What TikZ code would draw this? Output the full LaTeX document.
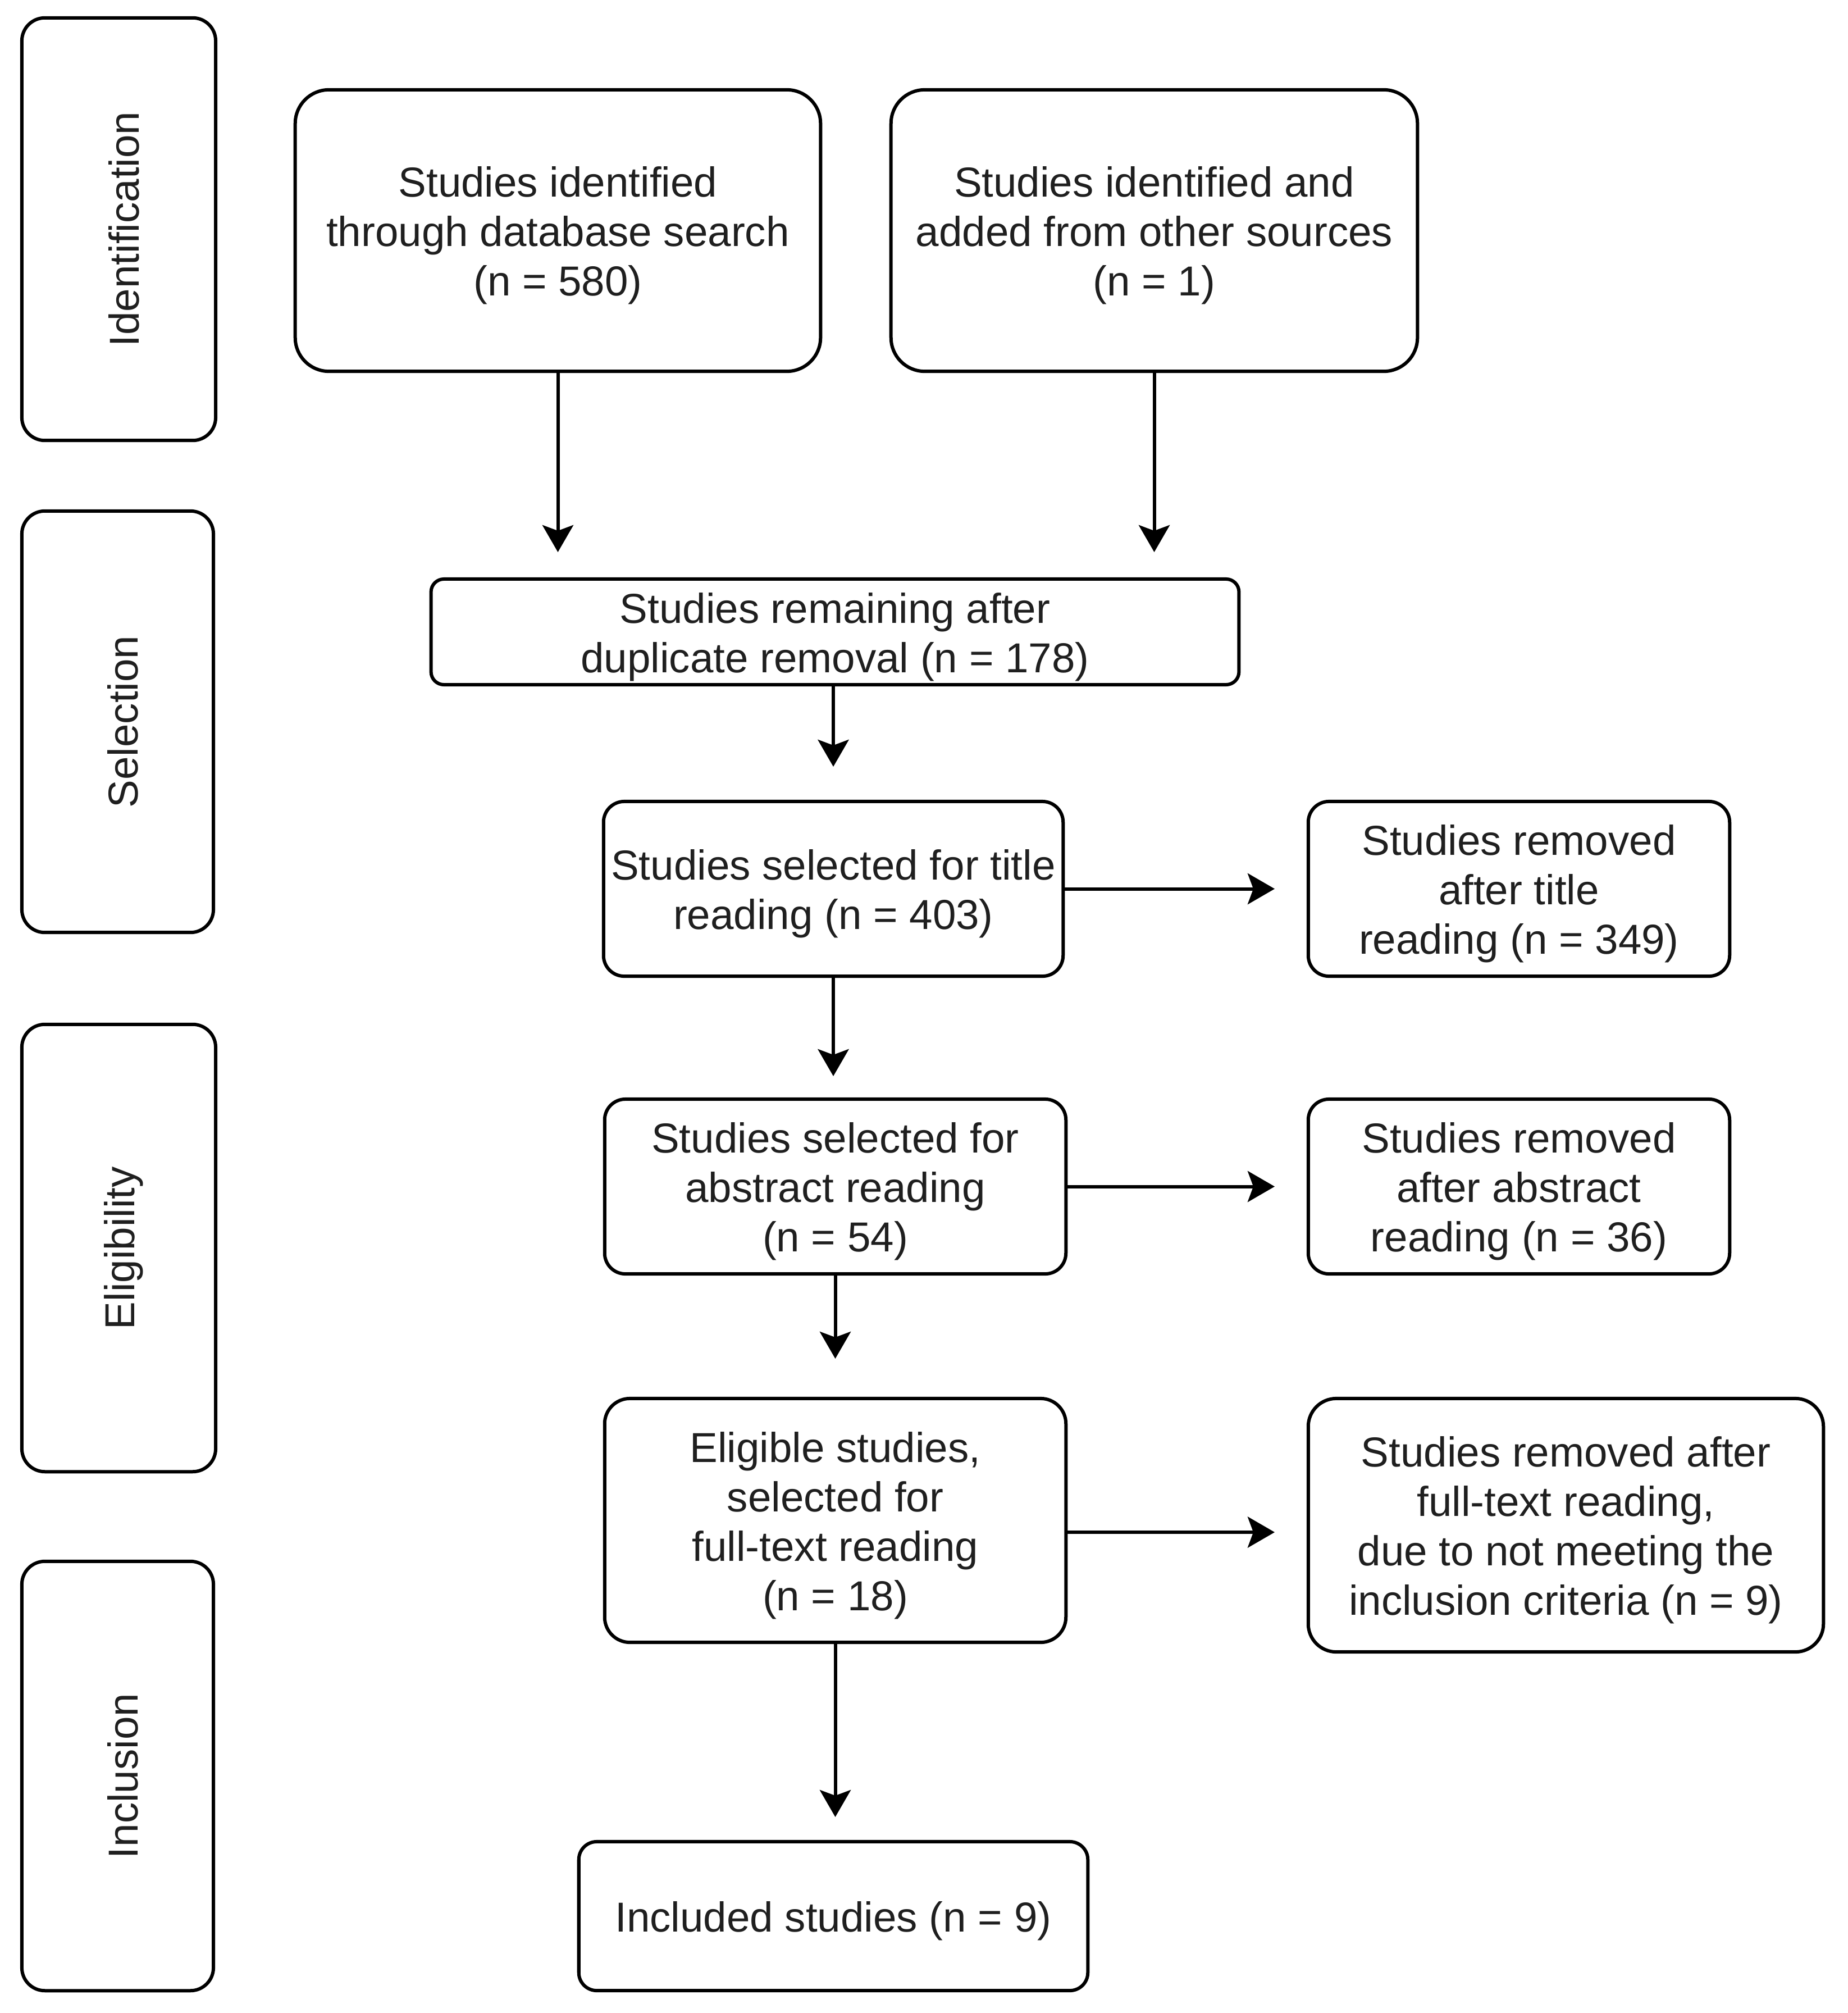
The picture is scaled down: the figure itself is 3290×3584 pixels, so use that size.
\documentclass[tikz,border=0pt]{standalone}
\usepackage{fontspec}
\setmainfont{Liberation Sans}
\usetikzlibrary{arrows.meta}
\newcommand\dn[1]{\smash{\raisebox{-0.09cm}{#1}}\vphantom{#1}}
\begin{document}
\begin{tikzpicture}[x=0.01cm,y=-0.01cm,
  box/.style={draw=black, line width=0.06cm, align=center, inner sep=0pt,
    font=\fontsize{21.2}{25}\selectfont, text=black!88},
  arr/.style={-{Stealth[length=0.48cm,width=0.55cm,inset=0.1cm]}, line width=0.06cm}]
\fill[white] (0,0) rectangle (3290,3584);
\useasboundingbox (0,0) rectangle (3290,3584);

% phase boxes
\node[box, rotate=90, minimum width=7.52cm, minimum height=3.45cm, rounded corners=0.41cm] (id) at (211.5,408) {\dn{Identification}};
\node[box, rotate=90, minimum width=7.50cm, minimum height=3.41cm, rounded corners=0.41cm] (sel) at (209.5,1285) {\dn{Selection}};
\node[box, rotate=90, minimum width=7.96cm, minimum height=3.45cm, rounded corners=0.41cm] (elig) at (211.5,2222) {\dn{Eligibility}};
\node[box, rotate=90, minimum width=7.64cm, minimum height=3.41cm, rounded corners=0.41cm] (incl) at (209.5,3162) {\dn{Inclusion}};

% flow boxes
\node[box, minimum width=9.35cm, minimum height=5.01cm, rounded corners=0.6cm] (A) at (993.5,410.5)
  {\dn{Studies identified}\\\dn{through database search}\\\dn{(n = 580)}};
\node[box, minimum width=9.37cm, minimum height=5.01cm, rounded corners=0.6cm] (B) at (2055.5,410.5)
  {\dn{Studies identified and}\\\dn{added from other sources}\\\dn{(n = 1)}};
\node[box, minimum width=14.38cm, minimum height=1.88cm, rounded corners=0.23cm] (C) at (1487,1125)
  {\dn{Studies remaining after}\\\dn{duplicate removal (n = 178)}};
\node[box, minimum width=8.18cm, minimum height=3.11cm, rounded corners=0.37cm] (D) at (1484,1582.5)
  {\dn{Studies selected for title}\\\dn{reading (n = 403)}};
\node[box, minimum width=7.50cm, minimum height=3.11cm, rounded corners=0.37cm] (E) at (2705,1582.5)
  {\dn{Studies removed}\\\dn{after title}\\\dn{reading (n = 349)}};
\node[box, minimum width=8.21cm, minimum height=3.11cm, rounded corners=0.37cm] (F) at (1487.5,2112.5)
  {\dn{Studies selected for}\\\dn{abstract reading}\\\dn{(n = 54)}};
\node[box, minimum width=7.50cm, minimum height=3.11cm, rounded corners=0.37cm] (G) at (2705,2112.5)
  {\dn{Studies removed}\\\dn{after abstract}\\\dn{reading (n = 36)}};
\node[box, minimum width=8.21cm, minimum height=4.34cm, rounded corners=0.45cm] (H) at (1487.5,2707)
  {\dn{Eligible studies,}\\\dn{selected for}\\\dn{full-text reading}\\\dn{(n = 18)}};
\node[box, minimum width=9.17cm, minimum height=4.51cm, rounded corners=0.5cm] (I) at (2788.5,2715.5)
  {\dn{Studies removed after}\\\dn{full-text reading,}\\\dn{due to not meeting the}\\\dn{inclusion criteria (n = 9)}};
\node[box, minimum width=9.06cm, minimum height=2.65cm, rounded corners=0.32cm] (J) at (1484,3411.5)
  {\dn{Included studies (n = 9)}};

% free arrow ends
\coordinate (eA) at (A.south |- 0,983);
\coordinate (eB) at (B.south |- 0,983);
\coordinate (sC) at (1484,1219);
\coordinate (eC) at (1484,1365);
\coordinate (eD) at (2270,1582.5);
\coordinate (eDF) at (D.south |- 0,1916);
\coordinate (eF) at (2270,2112.5);
\coordinate (eFH) at (F.south |- 0,2419);
\coordinate (sH) at (1898,2728);
\coordinate (eH) at (2270,2728);
\coordinate (eHJ) at (H.south |- 0,3235);

% connectors
\draw[arr] (A.south) -- (eA);
\draw[arr] (B.south) -- (eB);
\draw[arr] (sC) -- (eC);
\draw[arr] (D.east) -- (eD);
\draw[arr] (D.south) -- (eDF);
\draw[arr] (F.east) -- (eF);
\draw[arr] (F.south) -- (eFH);
\draw[arr] (sH) -- (eH);
\draw[arr] (H.south) -- (eHJ);
\end{tikzpicture}
\end{document}
